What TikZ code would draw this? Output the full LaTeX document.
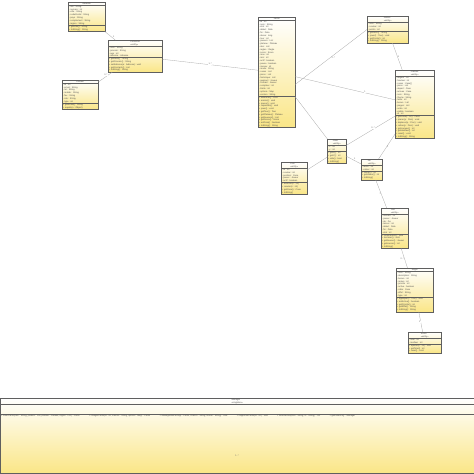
\documentclass[tikz,border=0pt]{standalone}
\usepackage{fontspec}
\setmainfont{Liberation Sans}
\usetikzlibrary{shapes.multipart,positioning}
\definecolor{classyellow}{RGB}{250,230,135}
\definecolor{classline}{RGB}{95,95,95}
\definecolor{linkgray}{RGB}{170,170,170}

\begin{document}
\begin{tikzpicture}[x=1pt, y=-1pt,
        % Define class style
        classbox/.style={
        rectangle split,
        rectangle split parts=3,
        rectangle split part align={center,left,left},
        align=left,
        draw=classline,
        line width=0.3pt,
        top color=white,
        middle color=classyellow!30,
        bottom color=classyellow,
        anchor=north west,
        inner xsep=1pt,
        inner ysep=0.5pt,
        font=\fontsize{2.2}{2.8}\selectfont,
        text=black!70
        },
        link/.style={draw=linkgray, line width=0.3pt},
        linklabel/.style={font=\fontsize{2.2}{2.8}\selectfont, text=black!60, fill=white, inner sep=0.3pt}]
        \useasboundingbox (0,0) rectangle (474,474);
        % Classes
        \node[classbox, minimum width=37pt] (adresse) at (68,2) {Adresse
            \nodepart{two}- rue : String\\- numero : int\\- ville : String\\- codePostal : String\\- pays : String\\- complement : String\\- region : String
            \nodepart{three}+ getVille() : String\\+ toString() : String};
        \node[classbox, minimum width=54pt] (personne) at (108,40) {Personne\\{\guillemotleft}entity{\guillemotright}
            \nodepart{two}- nom : String\\- prenom : String\\- age : int\\- adresse : Adresse
            \nodepart{three}+ getNom() : String\\+ getPrenom() : String\\+ setAdresse(a : Adresse) : void\\+ getContacts() : List\\+ toString() : String};
        \node[classbox, minimum width=36pt] (contact) at (62,80) {Contact
            \nodepart{two}- id : int\\- email : String\\- tel : String\\- mobile : String\\- fax : String\\- site : String\\- type : int
            \nodepart{three}+ getEmail() : String\\+ equals(o : Object)};
        \node[classbox, minimum width=37pt] (partie) at (258,17) {Partie
            \nodepart{two}- id : int\\- nom : String\\- etat : int\\- debut : Date\\- fin : Date\\- duree : long\\- tour : int\\- joueurs : List\\- plateau : Plateau\\- des : List\\- regles : Regle\\- score : Score\\- max : int\\- min : int\\- actif : boolean\\- pause : boolean\\- niveau : int\\- mode : String\\- cases : List\\- pions : List\\- historique : List\\- gagnant : Joueur\\- courant : Joueur\\- compteur : int\\- limite : int\\- options : Map\\- version : String
            \nodepart{three}+ demarrer() : void\\+ arreter() : void\\+ pause() : void\\+ reprendre() : void\\+ jouer() : void\\+ getTour() : Tour\\+ getPlateau() : Plateau\\+ getJoueurs() : List\\+ getScore() : Score\\+ estFinie() : boolean\\+ toString() : String};
        \node[classbox, minimum width=41pt] (joueur) at (367,16) {Joueur\\{\guillemotleft}entity{\guillemotright}
            \nodepart{two}- nom : String\\- couleur : int\\- points : int
            \nodepart{three}+ getNom() : String\\+ jouer(t : Tour) : void\\+ getPoints() : int\\+ toString() : String};
        \node[classbox, minimum width=39pt] (plateau) at (395,70) {Plateau\\{\guillemotleft}entity{\guillemotright}
            \nodepart{two}- largeur : int\\- hauteur : int\\- cases : Case[]\\- pions : List\\- depart : Case\\- arrivee : Case\\- nom : String\\- theme : String\\- taille : int\\- bonus : List\\- pieges : List\\- ordre : int\\- visible : boolean\\- id : int
            \nodepart{three}+ getCase(i : int) : Case\\+ placer(p : Pion) : void\\+ deplacer(p : Pion) : void\\+ retirer(p : Pion) : void\\+ getLargeur() : int\\+ getHauteur() : int\\+ reset() : void\\+ toString() : String};
        \node[classbox, minimum width=19pt] (case) at (327,139) {Case\\{\guillemotleft}entity{\guillemotright}
            \nodepart{two}- x : int\\- y : int
            \nodepart{three}+ getX() : int\\+ getY() : int\\+ vide() : bool\\+ toString()};
        \node[classbox, minimum width=26pt] (pion) at (281,162) {Pion\\{\guillemotleft}entity{\guillemotright}
            \nodepart{two}- id : int\\- couleur : int\\- position : Case\\- joueur : Joueur\\- actif : boolean
            \nodepart{three}+ avancer(n : int)\\+ reculer(n : int)\\+ getCase() : Case\\+ toString()};
        \node[classbox, minimum width=21pt] (de) at (361,159) {De\\{\guillemotleft}entity{\guillemotright}
            \nodepart{two}- faces : int\\- valeur : int
            \nodepart{three}+ lancer() : int\\+ getValeur() : int\\+ toString()};
        \node[classbox, minimum width=27pt] (tour) at (381,208) {Tour\\{\guillemotleft}entity{\guillemotright}
            \nodepart{two}- numero : int\\- joueur : Joueur\\- de : De\\- lancer : int\\- debut : Date\\- fin : Date\\- etat : int
            \nodepart{three}+ commencer() : void\\+ terminer() : void\\+ getJoueur() : Joueur\\+ getLancer() : int\\+ toString()};
        \node[classbox, minimum width=37pt] (regle) at (396,268) {Regle
            \nodepart{two}- nom : String\\- description : String\\- bonus : int\\- malus : int\\- priorite : int\\- active : boolean\\- cible : Case\\- effet : String\\- type : int
            \nodepart{three}+ appliquer(t : Tour) : void\\+ estActive() : boolean\\+ getPriorite() : int\\+ getEffet() : String\\+ toString() : String};
        \node[classbox, minimum width=33pt] (score) at (408,332) {Score\\{\guillemotleft}entity{\guillemotright}
            \nodepart{two}- total : int\\- meilleur : int
            \nodepart{three}+ ajouter(n : int) : void\\+ getTotal() : int\\+ reset() : void};
        \node[classbox, minimum width=474pt] (manager) at (0,398) {Manager\\{\guillemotleft}singleton{\guillemotright}
            \nodepart{two}\strut\\\strut\\\strut
            \nodepart{three}+ creerPartie(nom : String, joueurs : List, plateau : Plateau, regles : List) : Partie
            \qquad\qquad + chargerPartie(id : int, chemin : String, options : Map) : Partie
            \qquad\qquad + sauvegarderPartie(p : Partie, chemin : String, format : String) : void
            \qquad\qquad + supprimerPartie(id : int) : void
            \qquad\qquad + listerParties(filtre : String, tri : String) : List
            \qquad\qquad + getInstance() : Manager\\[53.5pt]~};
        \node[font=\fontsize{2.2}{2.8}\selectfont, text=black!60, inner sep=0pt] (mgrnote) at (237,456) {1..*};

        % Links
        \draw[link] (adresse) -- node[linklabel, pos=0.75, above right] {1} (personne);
        \draw[link] (personne) -- node[linklabel, pos=0.3, left] {0..*} (contact);
        \draw[link] (personne) -- node[linklabel, above] {1..*} (partie);
        \draw[link] (partie.east) ++(0,12) coordinate (pj) -- node[linklabel, pos=0.5, below right] {2..*} (joueur.west);
        \draw[link] (partie) -- node[linklabel, pos=0.7, above] {1} (plateau);
        \draw[link] (partie) -- (case);
        \draw[link] (joueur) -- node[linklabel, right] {1} (plateau);
        \draw[link] (plateau) -- node[linklabel, pos=0.45, above] {0..*} (case);
        \draw[link] (plateau) -- node[linklabel, right] {1} (de);
        \draw[link] (case) -- (pion);
        \draw[link] (case) -- node[linklabel, pos=0.5, above right] {1} (de);
        \draw[link] (de) -- node[linklabel, left] {1} (tour);
        \draw[link] (tour) -- node[linklabel, left] {0..*} (regle);
        \draw[link] (regle) -- node[linklabel, left] {1} (score);
\end{tikzpicture}
\end{document}
